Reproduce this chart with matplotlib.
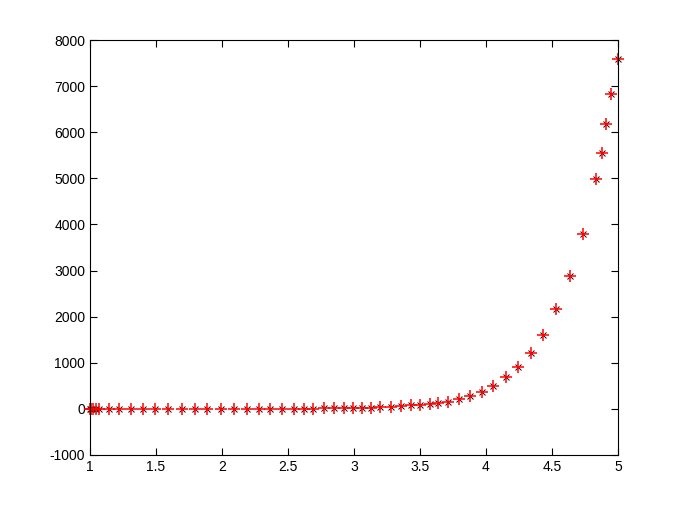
import matplotlib
matplotlib.use('Agg')
import matplotlib.pyplot as plt

# valores
x_vals = [1.0, 1.01, 1.025, 1.045, 1.07, 1.141, 1.222, 1.311, 1.398, 1.492,
          1.592, 1.695, 1.795, 1.890, 1.992, 2.093, 2.190, 2.277, 2.367, 2.455,
          2.542, 2.618, 2.691, 2.775, 2.851, 2.921, 2.989, 3.061, 3.129, 3.197,
          3.278, 3.354, 3.430, 3.503, 3.576, 3.638, 3.712, 3.795, 3.879, 3.970,
          4.053, 4.152, 4.242, 4.341, 4.432, 4.530, 4.636, 4.735, 4.833, 4.879,
          4.909, 4.947, 5.0]
y_vals = [0.05, 0.05, 0.05, 0.06, 0.06, 0.07, 0.09, 0.12, 0.15, 0.2,
          0.27, 0.37, 0.5, 0.68, 0.9, 1.2, 1.6, 2.1, 2.7, 3.5,
          4.5, 5.6, 6.9, 8.6, 10.5, 12.5, 15, 22, 29, 37,
          48, 60, 76, 95, 115, 135, 155, 210, 281, 376,
          499, 687, 918, 1215, 1605, 2161, 2877, 3795, 4988, 5552,
          6181, 6831, 7590]

x_ticks = [1, 1.5, 2, 2.5, 3, 3.5, 4, 4.5, 5]
y_ticks = [-1000, 0, 1000, 2000, 3000, 4000, 5000, 6000, 7000, 8000]

plt.rcParams['font.family'] = ['Liberation Sans', 'DejaVu Sans']
plt.rcParams['axes.unicode_minus'] = False

fig = plt.figure(figsize=(6.82, 5.11), dpi=100)
ax = fig.add_axes([0.132, 0.1096, 0.774, 0.8121])

# asterisco negro debajo, cruz roja encima (estilo matlab)
ax.plot(x_vals, y_vals, linestyle='none', marker='x', color='#300000',
        markersize=4.5, markeredgewidth=0.7, clip_on=False)
ax.plot(x_vals, y_vals, linestyle='none', marker='+', color='red',
        markersize=8.5, markeredgewidth=1.1, clip_on=False)

ax.set_xlim(1, 5)
ax.set_ylim(-1000, 8000)
ax.set_xticks(x_ticks)
ax.set_xticklabels(['1', '1.5', '2', '2.5', '3', '3.5', '4', '4.5', '5'])
ax.set_yticks(y_ticks)
ax.tick_params(direction='in', top=True, right=True, length=5, width=0.8,
               labelsize=10, colors='black')
for s in ax.spines.values():
    s.set_linewidth(0.8)

fig.savefig('out.png', dpi=100)
